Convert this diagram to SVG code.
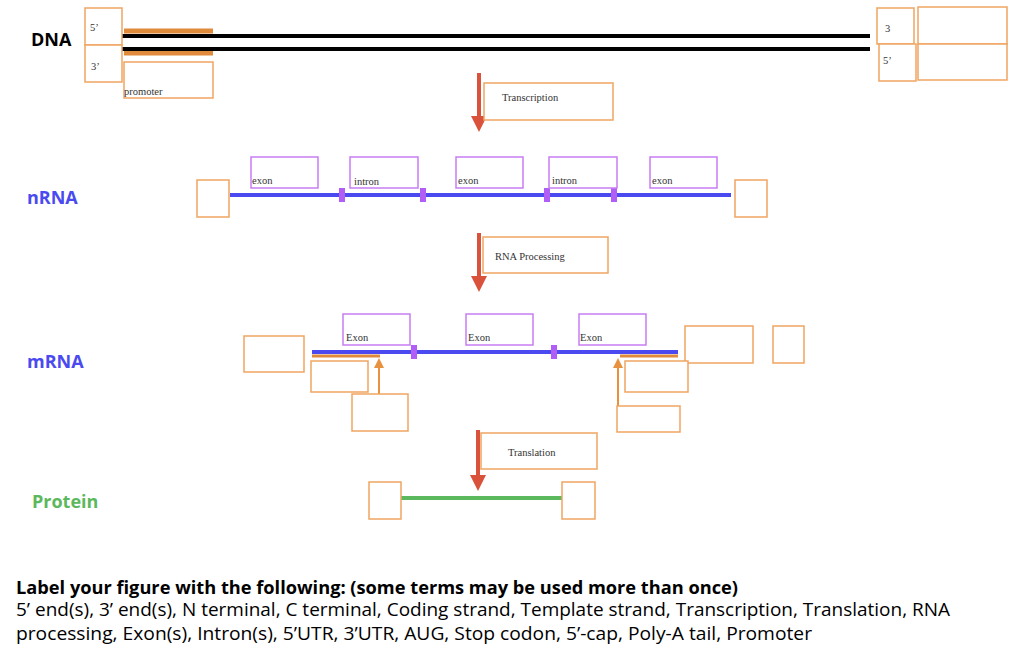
<svg xmlns="http://www.w3.org/2000/svg" width="1024" height="658" viewBox="0 0 1024 658">
<defs>
<marker id="ra" markerWidth="4" markerHeight="4" refX="2" refY="2" orient="auto" markerUnits="strokeWidth"><path d="M0,0 L4,2 L0,4 z" fill="#d9533c"/></marker>
<marker id="oa" markerWidth="5" markerHeight="5" refX="2.5" refY="2.5" orient="auto" markerUnits="strokeWidth"><path d="M0,0 L5,2.5 L0,5 z" fill="#e8913f"/></marker>
</defs>
<style>
.ob{fill:#fff;stroke:#f0a561;stroke-width:1.5}
.pb{fill:#fff;stroke:#c77df3;stroke-width:1.5}
.t{font-family:"Liberation Serif",serif;font-size:10.5px;fill:#333}
.lab{font-family:"Open Sans","Liberation Sans",sans-serif;font-weight:bold;font-size:18px}
.ft{font-family:"Open Sans","Liberation Sans",sans-serif;font-size:18px;fill:#000}
.mk{fill:#b05ef5}
</style>
<rect width="1024" height="658" fill="#fff"/>
<g id="labels">
<text class="lab" x="31" y="46" fill="#000">DNA</text>
<text class="lab" x="27" y="204" fill="#4a4af0">nRNA</text>
<text class="lab" x="27" y="368" fill="#4a4af0">mRNA</text>
<text class="lab" x="32" y="508" fill="#5cb85c">Protein</text>
</g>
<g id="connectors">
<line x1="124" y1="31" x2="213" y2="31" stroke="#e08a3c" stroke-width="5"/>
<line x1="124" y1="53" x2="213" y2="53" stroke="#e08a3c" stroke-width="5"/>
<line x1="122" y1="36" x2="870" y2="36" stroke="#000" stroke-width="4"/>
<line x1="122" y1="49" x2="870" y2="49" stroke="#000" stroke-width="4"/>
<line x1="479" y1="73" x2="479" y2="124" stroke="#d9533c" stroke-width="4" marker-end="url(#ra)"/>
<line x1="230" y1="195" x2="731" y2="195" stroke="#4a4af0" stroke-width="4"/>
<line x1="479" y1="233" x2="479" y2="284" stroke="#d9533c" stroke-width="4" marker-end="url(#ra)"/>
<line x1="312" y1="352" x2="678" y2="352" stroke="#4a4af0" stroke-width="4"/>
<line x1="312" y1="356" x2="380" y2="356" stroke="#e08a3c" stroke-width="3"/>
<line x1="620" y1="356" x2="678" y2="356" stroke="#e08a3c" stroke-width="3"/>
<line x1="379" y1="394" x2="379" y2="363" stroke="#e8913f" stroke-width="2" marker-end="url(#oa)"/>
<line x1="618" y1="406" x2="618" y2="363" stroke="#e8913f" stroke-width="2" marker-end="url(#oa)"/>
<line x1="478" y1="430" x2="478" y2="483" stroke="#d9533c" stroke-width="4" marker-end="url(#ra)"/>
<line x1="400" y1="498" x2="562" y2="498" stroke="#5cb85c" stroke-width="4"/>
<rect class="mk" x="339" y="188" width="6" height="14"/>
<rect class="mk" x="420" y="188" width="6" height="14"/>
<rect class="mk" x="544" y="188" width="6" height="14"/>
<rect class="mk" x="611" y="188" width="6" height="14"/>
<rect class="mk" x="411" y="345" width="6" height="14"/>
<rect class="mk" x="551" y="345" width="6" height="14"/>
</g>
<g id="n-5prime"><rect class="ob" x="85" y="8" width="37" height="37"/><text class="t" x="90" y="31">5’</text></g>
<g id="n-3prime"><rect class="ob" x="85" y="45" width="37" height="37"/><text class="t" x="91" y="70">3’</text></g>
<g id="n-promoter"><rect class="ob" x="124" y="62" width="89" height="36"/><text class="t" x="124" y="95">promoter</text></g>
<g id="n-r3"><rect class="ob" x="877" y="8" width="37" height="36"/><text class="t" x="885" y="32">3</text></g>
<g id="n-r5"><rect class="ob" x="879" y="44" width="37" height="37"/><text class="t" x="883" y="64">5’</text></g>
<g id="n-rb1"><rect class="ob" x="918" y="7" width="89" height="37"/></g>
<g id="n-rb2"><rect class="ob" x="918" y="44" width="89" height="36"/></g>
<g id="n-transcription"><rect class="ob" x="484" y="83" width="129" height="37"/><text class="t" x="502" y="101">Transcription</text></g>
<g id="n-nl"><rect class="ob" x="197" y="180" width="32" height="37"/></g>
<g id="n-nr"><rect class="ob" x="735" y="180" width="32" height="37"/></g>
<g id="n-e1"><rect class="pb" x="251" y="157" width="67" height="31"/><text class="t" x="252" y="184">exon</text></g>
<g id="n-i1"><rect class="pb" x="350" y="157" width="68" height="31"/><text class="t" x="354" y="185">intron</text></g>
<g id="n-e2"><rect class="pb" x="456" y="157" width="67" height="31"/><text class="t" x="458" y="184">exon</text></g>
<g id="n-i2"><rect class="pb" x="549" y="157" width="68" height="31"/><text class="t" x="552" y="184">intron</text></g>
<g id="n-e3"><rect class="pb" x="650" y="157" width="67" height="31"/><text class="t" x="652" y="184">exon</text></g>
<g id="n-processing"><rect class="ob" x="483" y="237" width="125" height="36"/><text class="t" x="495" y="260">RNA Processing</text></g>
<g id="n-E1"><rect class="pb" x="343" y="314" width="67" height="31"/><text class="t" x="346" y="341">Exon</text></g>
<g id="n-E2"><rect class="pb" x="466" y="314" width="67" height="31"/><text class="t" x="468" y="341">Exon</text></g>
<g id="n-E3"><rect class="pb" x="579" y="314" width="67" height="31"/><text class="t" x="580" y="341">Exon</text></g>
<g id="n-m1"><rect class="ob" x="244" y="336" width="60" height="36"/></g>
<g id="n-m2"><rect class="ob" x="311" y="361" width="57" height="31"/></g>
<g id="n-m3"><rect class="ob" x="352" y="394" width="56" height="37"/></g>
<g id="n-m4"><rect class="ob" x="685" y="326" width="68" height="37"/></g>
<g id="n-m5"><rect class="ob" x="773" y="326" width="31" height="37"/></g>
<g id="n-m6"><rect class="ob" x="625" y="361" width="63" height="31"/></g>
<g id="n-m7"><rect class="ob" x="617" y="406" width="63" height="26"/></g>
<g id="n-translation"><rect class="ob" x="481" y="433" width="116" height="36"/><text class="t" x="508" y="456">Translation</text></g>
<g id="n-p1"><rect class="ob" x="369" y="482" width="32" height="37"/></g>
<g id="n-p2"><rect class="ob" x="562" y="482" width="33" height="37"/></g>
<g id="footer">
<text class="ft" x="16" y="594" font-weight="bold" textLength="722" lengthAdjust="spacingAndGlyphs">Label your figure with the following: (some terms may be used more than once)</text>
<text class="ft" x="16" y="616" textLength="934" lengthAdjust="spacingAndGlyphs">5’ end(s), 3’ end(s), N terminal, C terminal, Coding strand, Template strand, Transcription, Translation, RNA</text>
<text class="ft" x="16" y="640" textLength="796" lengthAdjust="spacingAndGlyphs">processing, Exon(s), Intron(s), 5’UTR, 3’UTR, AUG, Stop codon, 5’-cap, Poly-A tail, Promoter</text>
</g>
</svg>
